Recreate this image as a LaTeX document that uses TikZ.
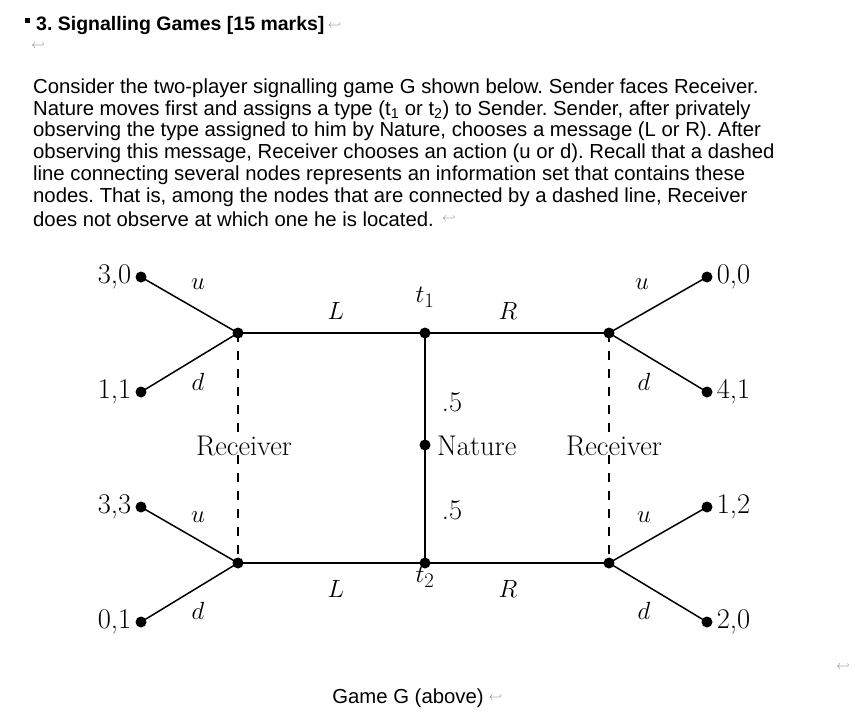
\documentclass[tikz,border=0pt]{standalone}
\usepackage{fontspec}
\newfontfamily\arialf{Liberation Sans}
\usepackage{amssymb}
\begin{document}
\frenchspacing
\begin{tikzpicture}[x=1pt,y=-1pt,
  dot/.style={circle,fill=black,inner sep=0pt,minimum size=11pt},
  txt/.style={font=\arialf\fontsize{20.3}{22}\selectfont,anchor=west,inner sep=0pt},
  lab/.style={font=\fontsize{28.5}{30}\selectfont,inner sep=1pt},
  ret/.style={font=\fontsize{13}{13}\selectfont,text=gray,inner sep=0pt},
  edge/.style={line width=1.5pt},
  dsh/.style={line width=1.3pt,dash pattern=on 9pt off 9pt}]
\useasboundingbox (0,0) rectangle (855,728);
\fill (25,18) rectangle (30,23);
\node[txt,font=\arialf\bfseries\fontsize{19.5}{22}\selectfont] (title) at (36,26) {3. Signalling Games [15 marks]};
\node[ret,anchor=west] (r1) at ([xshift=3pt]title.east) {$\hookleftarrow$};
\node[ret] (r2) at (38,46) {$\hookleftarrow$};
\node[txt] (l1) at (33,88) {Consider the two-player signalling game G shown below. Sender faces Receiver.};
\node[txt] (l2) at (33,110) {Nature moves first and assigns a type (t\textsubscript{1} or t\textsubscript{2}) to Sender. Sender, after privately};
\node[txt] (l3) at (33,131) {observing the type assigned to him by Nature, chooses a message (L or R). After};
\node[txt] (l4) at (33,153) {observing this message, Receiver chooses an action (u or d). Recall that a dashed};
\node[txt] (l5) at (33,175) {line connecting several nodes represents an information set that contains these};
\node[txt] (l6) at (33,197) {nodes. That is, among the nodes that are connected by a dashed line, Receiver};
\node[txt] (l7) at (33,219) {does not observe at which one he is located.};
\node[ret,anchor=west] (r3) at ([xshift=8pt]l7.east) {$\hookleftarrow$};

% tree nodes
\node[dot] (t1) at (425,333) {};
\node[dot] (t2) at (425,563) {};
\node[dot] (N) at (425,445) {};
\node[dot] (RL1) at (238,333) {};
\node[dot] (RL2) at (238,563) {};
\node[dot] (RR1) at (609,333) {};
\node[dot] (RR2) at (609,563) {};
\node[dot] (a) at (141,277) {};
\node[dot] (b) at (141,392) {};
\node[dot] (c) at (141,507) {};
\node[dot] (e) at (141,622) {};
\node[dot] (f) at (707,277) {};
\node[dot] (g) at (707,392) {};
\node[dot] (h) at (707,507) {};
\node[dot] (k) at (707,622) {};

\draw[edge] (RL1.center) -- (RR1.center);
\draw[edge] (RL2.center) -- (RR2.center);
\draw[edge] (t1.center) -- (t2.center);
\draw[edge] (a.center) -- (RL1.center) -- (b.center);
\draw[edge] (c.center) -- (RL2.center) -- (e.center);
\draw[edge] (f.center) -- (RR1.center) -- (g.center);
\draw[edge] (h.center) -- (RR2.center) -- (k.center);

\node[lab] (recL) at (244,446) {Receiver};
\node[lab] (recR) at (614,446) {Receiver};
\node[lab,anchor=west] (nat) at (436,446) {Nature};
\draw[dsh] (RL1.center) -- ([yshift=-2pt]recL.north -| RL1);
\draw[dsh] ([yshift=2pt]recL.south -| RL2) -- (RL2.center);
\draw[dsh] (RR1.center) -- ([yshift=-2pt]recR.north -| RR1);
\draw[dsh] ([yshift=2pt]recR.south -| RR2) -- (RR2.center);

\node[lab] (p1) at (452,402) {.5};
\node[lab] (p2) at (452,510) {.5};
\node[lab] (T1) at (425,297) {$t_1$};
\node[lab] (T2) at (425,577) {$t_2$};
\node[lab] (L1) at (336,311) {$L$};
\node[lab] (L2) at (336,589) {$L$};
\node[lab] (R1) at (508,311) {$R$};
\node[lab] (R2) at (508,589) {$R$};
\node[lab] (u1) at (198,284) {$u$};
\node[lab] (d1) at (198,382) {$d$};
\node[lab] (u2) at (198,517) {$u$};
\node[lab] (d2) at (198,611) {$d$};
\node[lab] (u3) at (642,284) {$u$};
\node[lab] (d3) at (644,382) {$d$};
\node[lab] (u4) at (644,517) {$u$};
\node[lab] (d4) at (644,611) {$d$};
\node[lab,anchor=east] at ([xshift=-3pt]a.west) {3,0};
\node[lab,anchor=east] at ([xshift=-3pt]b.west) {1,1};
\node[lab,anchor=east] at ([xshift=-3pt]c.west) {3,3};
\node[lab,anchor=east] at ([xshift=-3pt]e.west) {0,1};
\node[lab,anchor=west] at ([xshift=3pt]f.east) {0,0};
\node[lab,anchor=west] at ([xshift=3pt]g.east) {4,1};
\node[lab,anchor=west] at ([xshift=3pt]h.east) {1,2};
\node[lab,anchor=west] at ([xshift=3pt]k.east) {2,0};

\node[txt,anchor=center] (cap) at (408,698) {Game G (above)};
\node[ret,anchor=west] at ([xshift=5pt]cap.east) {$\hookleftarrow$};
\node[ret] at (843,667) {$\hookleftarrow$};
\end{tikzpicture}
\end{document}
